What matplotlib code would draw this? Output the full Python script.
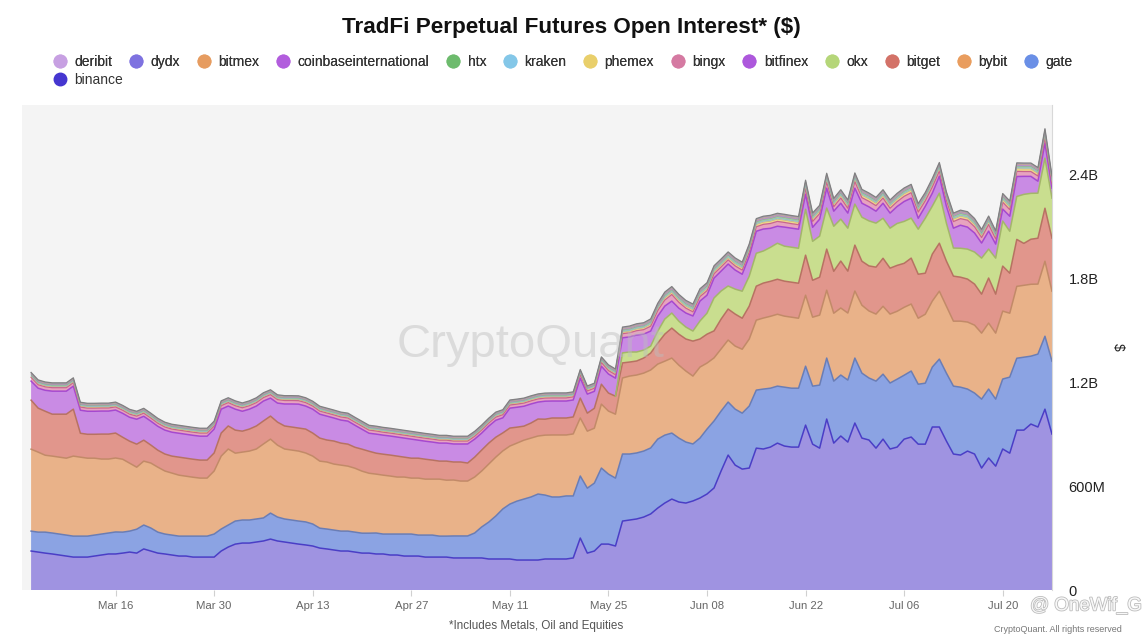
import numpy as np
import pandas as pd
import matplotlib
matplotlib.use("Agg")
import matplotlib.pyplot as plt
import matplotlib.dates as mdates
import matplotlib.patheffects as pe
from matplotlib.lines import Line2D

plt.rcParams['font.family'] = ['Liberation Sans', 'DejaVu Sans']

dates = pd.date_range("2025-03-04", "2025-07-27", freq="D")

# open interest by exchange, millions of USD (bottom of stack first)
binance = [
    225, 219, 213, 208, 202, 196, 190, 190, 190, 196,
    202, 208, 208, 213, 219, 213, 237, 225, 213, 208,
    202, 196, 196, 190, 190, 190, 190, 225, 248, 265,
    271, 271, 277, 283, 294, 283, 277, 271, 265, 260,
    254, 242, 237, 231, 225, 225, 219, 213, 213, 208,
    208, 202, 202, 196, 196, 196, 190, 190, 190, 190,
    185, 185, 185, 185, 185, 179, 179, 179, 179, 173,
    173, 173, 173, 179, 179, 179, 179, 185, 300, 213,
    225, 265, 265, 254, 398, 404, 410, 421, 439, 473,
    502, 525, 508, 502, 514, 531, 554, 589, 687, 779,
    721, 698, 704, 819, 814, 825, 848, 831, 825, 825,
    952, 842, 819, 987, 848, 889, 854, 964, 877, 866,
    819, 871, 814, 825, 871, 883, 842, 842, 941, 941,
    860, 785, 779, 802, 785, 704, 762, 715, 814, 790,
    923, 923, 958, 941, 1044, 900]
gate = [
    115, 115, 121, 121, 121, 121, 121, 121, 121, 121,
    121, 121, 127, 121, 121, 138, 138, 133, 121, 115,
    115, 115, 115, 121, 121, 121, 133, 127, 127, 133,
    133, 133, 133, 133, 150, 138, 133, 133, 133, 133,
    127, 115, 115, 115, 115, 115, 115, 115, 115, 121,
    115, 121, 121, 127, 127, 121, 127, 127, 121, 121,
    127, 127, 127, 144, 179, 213, 248, 289, 317, 340,
    352, 364, 381, 369, 358, 358, 364, 358, 358, 375,
    392, 439, 404, 392, 387, 381, 381, 381, 381, 398,
    392, 381, 369, 352, 329, 346, 375, 387, 346, 306,
    323, 323, 358, 335, 346, 340, 329, 340, 340, 340,
    340, 335, 364, 352, 358, 352, 358, 375, 375, 358,
    387, 375, 381, 392, 369, 381, 346, 352, 346, 392,
    392, 392, 392, 358, 352, 398, 398, 387, 404, 439,
    415, 421, 392, 421, 421, 421]
bybit = [
    473, 462, 444, 444, 444, 444, 462, 456, 450, 444,
    433, 427, 427, 421, 392, 358, 369, 375, 375, 364,
    358, 352, 346, 340, 335, 335, 364, 421, 439, 392,
    392, 398, 404, 427, 427, 415, 404, 404, 404, 398,
    392, 387, 387, 381, 381, 375, 369, 358, 346, 340,
    340, 335, 329, 329, 323, 329, 323, 323, 329, 323,
    323, 317, 317, 323, 323, 335, 340, 335, 335, 335,
    340, 340, 335, 346, 358, 358, 352, 358, 335, 329,
    317, 369, 364, 369, 439, 450, 450, 450, 450, 433,
    427, 433, 421, 410, 392, 410, 381, 364, 358, 358,
    364, 369, 387, 404, 410, 415, 415, 410, 410, 404,
    410, 398, 404, 392, 392, 387, 387, 387, 392, 387,
    387, 392, 398, 392, 392, 387, 381, 398, 381, 392,
    387, 375, 381, 387, 392, 381, 381, 381, 392, 369,
    415, 415, 415, 404, 433, 404]
bitget = [
    283, 254, 254, 242, 248, 254, 271, 138, 138, 138,
    144, 144, 144, 127, 127, 133, 121, 104, 98, 98,
    98, 104, 104, 104, 104, 104, 104, 133, 133, 133,
    121, 127, 133, 133, 133, 133, 133, 133, 133, 138,
    133, 133, 127, 133, 127, 127, 121, 127, 127, 121,
    121, 121, 121, 115, 115, 115, 115, 110, 104, 110,
    104, 110, 104, 115, 121, 121, 115, 104, 104, 92,
    81, 87, 98, 92, 98, 98, 98, 98, 115, 104,
    115, 115, 104, 104, 87, 81, 81, 87, 98, 121,
    156, 173, 179, 185, 202, 162, 167, 156, 173, 179,
    185, 179, 190, 196, 202, 202, 202, 202, 202, 202,
    231, 213, 219, 237, 242, 271, 242, 265, 254, 260,
    271, 277, 265, 265, 254, 265, 254, 237, 271, 277,
    260, 260, 254, 248, 237, 225, 260, 225, 260, 231,
    271, 242, 260, 265, 306, 306]
okx = [
    0, 0, 0, 0, 0, 0, 0, 0, 0, 0,
    0, 0, 0, 0, 0, 0, 0, 0, 0, 0,
    0, 0, 0, 0, 0, 0, 0, 0, 0, 0,
    0, 0, 0, 0, 0, 0, 0, 0, 0, 0,
    0, 0, 0, 0, 0, 0, 0, 0, 0, 0,
    0, 0, 0, 0, 0, 0, 0, 0, 0, 0,
    0, 0, 0, 0, 0, 0, 0, 0, 0, 0,
    0, 0, 0, 0, 0, 0, 0, 0, 0, 0,
    0, 0, 0, 0, 58, 58, 52, 46, 40, 69,
    87, 87, 75, 69, 58, 104, 121, 190, 162, 133,
    144, 156, 173, 190, 185, 196, 208, 202, 202, 202,
    265, 225, 237, 237, 260, 242, 248, 237, 254, 260,
    254, 231, 231, 242, 242, 231, 260, 317, 277, 289,
    219, 162, 167, 173, 185, 208, 167, 208, 260, 242,
    248, 283, 265, 260, 289, 231]
bitfinex = [
    110, 115, 121, 133, 133, 133, 133, 133, 133, 133,
    133, 133, 133, 138, 138, 144, 138, 138, 138, 138,
    138, 138, 138, 138, 138, 138, 138, 138, 115, 121,
    115, 115, 115, 115, 104, 110, 127, 133, 138, 133,
    138, 138, 138, 133, 133, 133, 127, 115, 104, 110,
    110, 110, 110, 110, 110, 104, 104, 104, 104, 104,
    104, 104, 110, 104, 98, 98, 98, 87, 115, 115,
    115, 110, 98, 104, 98, 98, 98, 98, 115, 110,
    98, 104, 110, 104, 87, 87, 98, 92, 87, 87,
    75, 69, 75, 81, 87, 115, 104, 115, 115, 127,
    110, 98, 115, 127, 127, 110, 98, 110, 110, 110,
    87, 81, 98, 115, 87, 92, 87, 92, 81, 81,
    69, 87, 87, 98, 115, 115, 63, 69, 75, 98,
    98, 115, 133, 127, 110, 87, 104, 81, 69, 87,
    115, 104, 98, 69, 87, 58]
bingx = [
    22, 20, 20, 20, 20, 20, 20, 18, 18, 18,
    18, 18, 18, 18, 18, 18, 18, 18, 18, 18,
    18, 18, 18, 18, 18, 18, 18, 20, 20, 20,
    20, 20, 20, 20, 20, 20, 20, 20, 20, 20,
    18, 18, 18, 18, 18, 18, 18, 18, 18, 18,
    17, 17, 17, 17, 17, 17, 17, 17, 17, 17,
    17, 17, 17, 17, 18, 18, 18, 18, 18, 18,
    18, 18, 18, 18, 18, 18, 18, 18, 20, 18,
    18, 22, 20, 20, 24, 24, 25, 26, 28, 32,
    35, 38, 34, 28, 24, 26, 26, 25, 24, 24,
    24, 24, 25, 26, 27, 28, 28, 27, 26, 26,
    32, 34, 32, 36, 26, 30, 28, 38, 32, 32,
    32, 30, 28, 28, 30, 32, 36, 32, 36, 30,
    34, 38, 38, 40, 36, 32, 38, 30, 40, 38,
    30, 28, 28, 30, 32, 24]
phemex = [
    6, 6, 6, 6, 6, 6, 6, 6, 6, 6,
    6, 6, 6, 6, 6, 6, 6, 6, 6, 6,
    6, 6, 6, 6, 6, 6, 6, 6, 6, 6,
    6, 6, 6, 6, 6, 6, 6, 6, 6, 6,
    6, 6, 6, 6, 6, 6, 6, 6, 6, 6,
    6, 6, 6, 6, 6, 6, 6, 6, 6, 6,
    6, 6, 6, 6, 6, 6, 7, 7, 7, 7,
    7, 7, 7, 7, 7, 7, 7, 7, 8, 7,
    7, 8, 8, 8, 9, 9, 10, 10, 11, 11,
    12, 12, 12, 11, 11, 11, 12, 12, 12, 12,
    12, 12, 12, 13, 13, 13, 13, 13, 13, 13,
    14, 14, 14, 15, 14, 14, 14, 15, 14, 14,
    14, 14, 14, 14, 14, 14, 14, 14, 14, 15,
    15, 14, 14, 14, 14, 13, 14, 13, 15, 15,
    15, 15, 15, 15, 16, 14]
kraken = [
    4, 4, 4, 4, 4, 4, 4, 4, 4, 4,
    4, 4, 4, 4, 4, 4, 4, 4, 4, 4,
    4, 4, 4, 4, 4, 4, 4, 4, 4, 4,
    4, 4, 4, 4, 4, 4, 4, 4, 4, 4,
    4, 4, 4, 4, 4, 4, 4, 4, 4, 4,
    4, 4, 4, 4, 4, 4, 4, 4, 4, 4,
    4, 4, 4, 4, 4, 4, 4, 4, 4, 4,
    4, 4, 4, 4, 4, 4, 4, 4, 4, 4,
    4, 4, 5, 5, 5, 5, 5, 5, 5, 5,
    6, 6, 6, 6, 6, 6, 6, 6, 6, 6,
    6, 6, 6, 6, 6, 6, 6, 6, 6, 6,
    6, 6, 6, 6, 6, 6, 6, 6, 6, 6,
    6, 6, 6, 6, 6, 6, 6, 6, 6, 6,
    6, 6, 6, 6, 6, 6, 6, 6, 6, 6,
    6, 6, 6, 6, 6, 6]
htx = [
    5, 5, 5, 5, 5, 5, 5, 5, 5, 5,
    5, 5, 5, 5, 5, 5, 5, 5, 5, 5,
    5, 5, 5, 5, 5, 5, 5, 5, 5, 5,
    5, 5, 5, 5, 5, 5, 5, 5, 5, 5,
    5, 5, 5, 5, 5, 5, 5, 5, 5, 5,
    5, 5, 5, 5, 5, 5, 5, 5, 5, 5,
    5, 5, 5, 5, 5, 5, 5, 5, 5, 5,
    5, 5, 5, 5, 5, 5, 5, 5, 5, 5,
    5, 6, 6, 6, 7, 7, 7, 7, 8, 8,
    9, 9, 9, 9, 9, 9, 9, 9, 9, 9,
    9, 9, 9, 9, 9, 9, 9, 9, 9, 9,
    10, 10, 9, 10, 9, 9, 9, 10, 9, 9,
    9, 9, 9, 9, 9, 9, 10, 9, 10, 9,
    9, 10, 10, 10, 9, 9, 10, 9, 10, 10,
    9, 9, 9, 9, 10, 8]
coinbaseinternational = [
    4, 4, 4, 4, 4, 4, 4, 4, 4, 4,
    4, 4, 4, 4, 4, 4, 4, 4, 4, 4,
    4, 4, 4, 4, 4, 4, 4, 4, 4, 4,
    4, 4, 4, 4, 4, 4, 4, 4, 4, 4,
    4, 4, 4, 4, 4, 4, 4, 4, 4, 4,
    4, 4, 4, 4, 4, 4, 4, 4, 4, 4,
    4, 4, 4, 4, 4, 4, 4, 4, 4, 4,
    4, 4, 4, 4, 4, 4, 4, 4, 4, 4,
    4, 5, 5, 5, 5, 6, 6, 6, 6, 6,
    7, 7, 7, 7, 7, 7, 7, 7, 7, 7,
    7, 7, 7, 7, 7, 7, 7, 7, 7, 7,
    7, 7, 7, 7, 7, 7, 7, 7, 7, 7,
    7, 7, 7, 7, 7, 7, 7, 7, 7, 7,
    7, 7, 7, 7, 7, 7, 7, 7, 7, 7,
    7, 7, 7, 7, 7, 7]
bitmex = [
    4, 4, 4, 4, 4, 4, 4, 4, 4, 4,
    4, 4, 4, 4, 4, 4, 4, 4, 4, 4,
    4, 4, 4, 4, 4, 4, 4, 4, 4, 4,
    4, 4, 4, 4, 4, 4, 4, 4, 4, 4,
    4, 4, 4, 4, 4, 4, 4, 4, 4, 4,
    4, 4, 4, 4, 4, 4, 4, 4, 4, 4,
    4, 4, 4, 4, 4, 4, 4, 4, 4, 4,
    4, 4, 4, 4, 4, 4, 4, 4, 4, 4,
    4, 4, 4, 4, 5, 5, 5, 5, 5, 5,
    5, 5, 5, 5, 5, 5, 5, 5, 5, 5,
    5, 5, 5, 5, 5, 5, 5, 5, 5, 5,
    5, 5, 5, 5, 5, 5, 5, 5, 5, 5,
    5, 5, 5, 5, 5, 5, 5, 5, 5, 5,
    5, 5, 5, 5, 5, 5, 5, 5, 5, 5,
    5, 5, 5, 5, 5, 5]
dydx = [
    3, 3, 3, 3, 3, 3, 3, 3, 3, 3,
    3, 3, 3, 3, 3, 3, 3, 3, 3, 3,
    3, 3, 3, 3, 3, 3, 3, 3, 3, 3,
    3, 3, 3, 3, 3, 3, 3, 3, 3, 3,
    3, 3, 3, 3, 3, 3, 3, 3, 3, 3,
    3, 3, 3, 3, 3, 3, 3, 3, 3, 3,
    3, 3, 3, 3, 3, 3, 3, 3, 3, 3,
    3, 3, 3, 3, 3, 3, 3, 3, 3, 3,
    3, 3, 3, 3, 4, 4, 4, 4, 4, 4,
    4, 4, 4, 4, 4, 4, 4, 4, 4, 4,
    4, 4, 4, 4, 4, 4, 4, 4, 4, 4,
    4, 4, 4, 4, 4, 4, 4, 4, 4, 4,
    4, 4, 4, 4, 4, 4, 4, 4, 4, 4,
    4, 4, 4, 4, 4, 4, 4, 4, 4, 4,
    4, 4, 4, 4, 4, 4]
deribit = [
    2, 2, 2, 2, 2, 2, 2, 2, 2, 2,
    2, 2, 2, 2, 2, 2, 2, 2, 2, 2,
    2, 2, 2, 2, 2, 2, 2, 2, 2, 2,
    2, 2, 2, 2, 2, 2, 2, 2, 2, 2,
    2, 2, 2, 2, 2, 2, 2, 2, 2, 2,
    2, 2, 2, 2, 2, 2, 2, 2, 2, 2,
    2, 2, 2, 2, 2, 2, 2, 2, 2, 2,
    2, 2, 2, 2, 2, 2, 2, 2, 2, 2,
    2, 2, 2, 2, 3, 3, 3, 3, 3, 3,
    3, 3, 3, 3, 3, 3, 3, 3, 3, 3,
    3, 3, 3, 3, 3, 3, 3, 3, 3, 3,
    3, 3, 3, 3, 3, 3, 3, 3, 3, 3,
    3, 3, 3, 3, 3, 3, 3, 3, 3, 3,
    3, 3, 3, 3, 3, 3, 3, 3, 3, 3,
    3, 3, 3, 3, 3, 3]

names = ["binance", "gate", "bybit", "bitget", "okx", "bitfinex", "bingx",
         "phemex", "kraken", "htx", "coinbaseinternational", "bitmex", "dydx", "deribit"]
series = [binance, gate, bybit, bitget, okx, bitfinex, bingx,
          phemex, kraken, htx, coinbaseinternational, bitmex, dydx, deribit]
fill_colors = ["#9f93e1", "#8ba3e3", "#e9b289", "#e1968c", "#c9de8f", "#c98be4", "#e7a3bf",
               "#efd98b", "#a9d9ec", "#a3d3a0", "#c78fe2", "#ebb587", "#aaa2ea", "#d8b8e8"]
line_colors = ["#4a3ec6", "#6a7db5", "#c28a68", "#b77262", "#a3b66a", "#a648cf", "#c8648e",
               "#c8b470", "#8ab4c4", "#86ad86", "#a58ab4", "#b0a090", "#9a98b0", "#808080"]
line_widths = [1.1, 1.1, 1.1, 1.1, 1.1, 1.1, 0.9, 0.5, 0.5, 0.5, 0.5, 0.5, 0.5, 0.9]
legend_colors = {"deribit": "#c7a0e2", "dydx": "#7e72e0", "bitmex": "#e69c60",
                 "coinbaseinternational": "#b25ddd", "htx": "#6dbb6d", "kraken": "#84c7e8",
                 "phemex": "#e9cf6b", "bingx": "#d57aa2", "bitfinex": "#ad58dc", "okx": "#b5d679",
                 "bitget": "#d37268", "bybit": "#e99d5e", "gate": "#6a8fe6", "binance": "#4536d0"}

for s in series:
    assert len(s) == len(dates)

vals = np.array(series, dtype=float) * 1e6

fig = plt.figure(figsize=(11.46, 6.42), dpi=100)
ax = fig.add_axes([22 / 1146, 1 - 590 / 642, 1030 / 1146, 485 / 642])
ax.set_facecolor("#f4f4f4")

ax.stackplot(dates, vals, colors=fill_colors, linewidth=0, zorder=2)
tops = np.cumsum(vals, axis=0)
for k in range(len(names)):
    y = tops[k].copy()
    has = vals[k] > 0
    has = has | np.r_[has[1:], False]
    y[~has] = np.nan
    ax.plot(dates, y, color=line_colors[k], lw=line_widths[k], zorder=3)

ax.text(0.494, 0.505, "CryptoQuant", transform=ax.transAxes, fontsize=34,
        color="#bdbdbd", alpha=0.45, ha="center", va="center", zorder=4)

ax.set_xlim(dates[0] - pd.Timedelta(hours=31), dates[-1])
ax.set_ylim(0, 2.8e9)

xt = pd.date_range("2025-03-16", "2025-07-20", freq="14D")
ax.set_xticks(xt)
ax.xaxis.set_major_formatter(mdates.DateFormatter("%b %d"))
ax.tick_params(axis="x", length=4, color="#d0d0d0", labelsize=8.2, labelcolor="#666666", pad=4)

ax.yaxis.tick_right()
ax.set_yticks([0, 0.6e9, 1.2e9, 1.8e9, 2.4e9])
ax.set_yticklabels(["0", "600M", "1.2B", "1.8B", "2.4B"])
ax.tick_params(axis="y", length=0, labelsize=10.5, labelcolor="#222222", pad=12)

for side in ["top", "left", "bottom"]:
    ax.spines[side].set_visible(False)
ax.spines["right"].set_color("#d8d8d8")

fig.text(1118 / 1146, 1 - 347 / 642, "$", rotation=270, fontsize=10,
         ha="center", va="center", color="#222222")

fig.text(571 / 1146, 1 - 28 / 642, "TradFi Perpetual Futures Open Interest* ($)",
         fontsize=16.2, fontweight="bold", ha="center", va="center", color="#111111")

legend_order = ["deribit", "dydx", "bitmex", "coinbaseinternational", "htx", "kraken",
                "phemex", "bingx", "bitfinex", "okx", "bitget", "bybit", "gate"]


def dot(c):
    return Line2D([], [], marker="o", ls="", markersize=9,
                  markerfacecolor=c, markeredgecolor=c)


leg_kw = dict(frameon=False, fontsize=10, handlelength=1.0, handletextpad=0.55,
              borderpad=0, borderaxespad=0, labelcolor="#333333", loc="center left")
leg1 = fig.legend([dot(legend_colors[n]) for n in legend_order], legend_order, ncol=13,
                  columnspacing=1.2, bbox_to_anchor=(53 / 1146, 1 - 62 / 642), **leg_kw)
fig.add_artist(leg1)
fig.legend([dot(legend_colors["binance"])], ["binance"],
           bbox_to_anchor=(53 / 1146, 1 - 80 / 642), **leg_kw)

fig.text(536 / 1146, 1 - 626 / 642, "*Includes Metals, Oil and Equities",
         fontsize=8.4, color="#555555", ha="center", va="center")
fig.text(1122 / 1146, 1 - 630 / 642, "CryptoQuant. All rights reserved",
         fontsize=6.5, color="#777777", ha="right", va="center")
fig.text(1142 / 1146, 1 - 606 / 642, "@ OneWif_G", fontsize=13.5, color="white",
         ha="right", va="center", alpha=0.9,
         path_effects=[pe.withStroke(linewidth=1.2, foreground="#b5b5b5")])

fig.savefig("out.png", dpi=100)
